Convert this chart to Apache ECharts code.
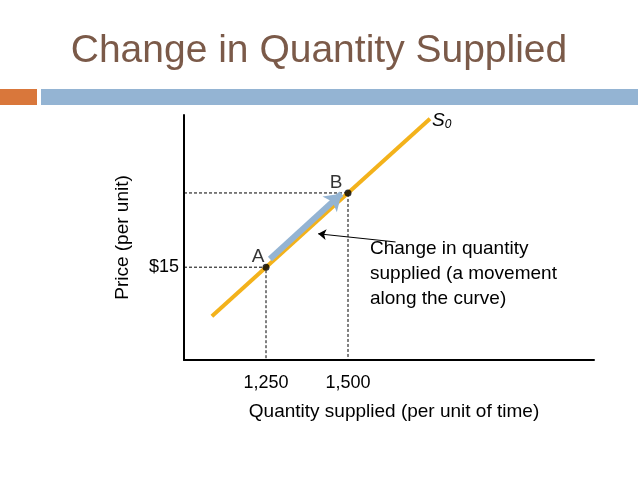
<!DOCTYPE html><html><head><meta charset="utf-8">
<script src="https://cdn.jsdelivr.net/npm/echarts@6/dist/echarts.min.js"></script>
<style>html,body{margin:0;background:#fff}#c{width:638px;height:478px}</style></head><body><div id="c"></div>
<script>
const supplyCurve=[[1085,11.7],[1750,25]];
const pointA=[1250,15], pointB=[1500,20];
const xTicks=[1250,1500];
const yTicks=[15];
const moveArrow=[[1262,15.55],[1480,19.95]];
const noteArrow=[[1645,16.7],[1409,17.25]];
const chart=echarts.init(document.getElementById('c'));
const F='Liberation Sans, Arial, sans-serif';
chart.setOption({
 animation:false,
 title:{text:'Change in Quantity Supplied',left:'center',top:27,textStyle:{fontFamily:F,fontSize:39,fontWeight:'normal',color:'#7b5a49'}},
 graphic:[
  {type:'rect',shape:{x:0,y:89,width:37,height:16},style:{fill:'#d9773b'}},
  {type:'rect',shape:{x:41,y:89,width:597,height:16},style:{fill:'#94b4d3'}},
  {type:'text',left:370,top:236,z:10,style:{text:'Change in quantity\nsupplied (a movement\nalong the curve)',font:'19px '+F,fill:'#000',lineHeight:25}}
 ],
 grid:{left:184,top:115,right:44,bottom:118},
 xAxis:{type:'value',min:1000,max:2250,interval:250,name:'Quantity supplied (per unit of time)',nameLocation:'middle',nameGap:42,
  nameTextStyle:{fontFamily:F,fontSize:19,color:'#000',padding:[0,0,0,10]},
  axisLine:{lineStyle:{color:'#000',width:2}},axisTick:{show:false},splitLine:{show:false},
  axisLabel:{fontFamily:F,fontSize:18,color:'#000',margin:14,formatter:v=>xTicks.includes(v)?v.toLocaleString('en-US'):''}},
 yAxis:{type:'value',min:8.75,max:25.25,interval:0.25,name:'Price (per unit)',nameLocation:'middle',nameGap:52,
  nameTextStyle:{fontFamily:F,fontSize:19,color:'#000'},
  axisLine:{lineStyle:{color:'#000',width:2}},axisTick:{show:false},splitLine:{show:false},
  axisLabel:{fontFamily:F,fontSize:18,color:'#000',margin:5,formatter:v=>yTicks.includes(v)?'$'+v:''}},
 series:[
  {type:'line',z:1,data:[[1000,pointB[1]],pointB,[pointB[0],8.75]],symbol:'none',lineStyle:{color:'#000',width:1,type:[3,2]}},
  {type:'line',z:1,data:[[1000,pointA[1]],pointA,[pointA[0],8.75]],symbol:'none',lineStyle:{color:'#000',width:1,type:[3,2]}},
  {type:'line',z:2,data:supplyCurve,symbol:'none',lineStyle:{color:'#f3b21b',width:4},
   endLabel:{show:true,formatter:'{i|S}{s|0}',offset:[-6,2],rich:{i:{fontFamily:F,fontSize:19,fontStyle:'italic',color:'#000'},s:{fontFamily:F,fontSize:12,fontStyle:'italic',color:'#000',verticalAlign:'bottom',padding:[8,0,0,0]}}}},
  {type:'lines',z:5,coordinateSystem:'cartesian2d',symbol:['none','arrow'],symbolSize:16,
   data:[{coords:moveArrow}],lineStyle:{color:'#94b4d3',width:6,opacity:1}},
  {type:'lines',z:5,coordinateSystem:'cartesian2d',symbol:['none','arrow'],symbolSize:8,
   data:[{coords:noteArrow}],lineStyle:{color:'#000',width:1,opacity:1}},
  {type:'scatter',z:8,data:[{value:pointA,name:'A',label:{offset:[-8,8]}},{value:pointB,name:'B',label:{offset:[-12,8]}}],symbolSize:7,itemStyle:{color:'#000'},
   label:{show:true,position:'top',formatter:'{b}',fontFamily:F,fontSize:19,color:'#000'}}
 ]
});
</script></body></html>
